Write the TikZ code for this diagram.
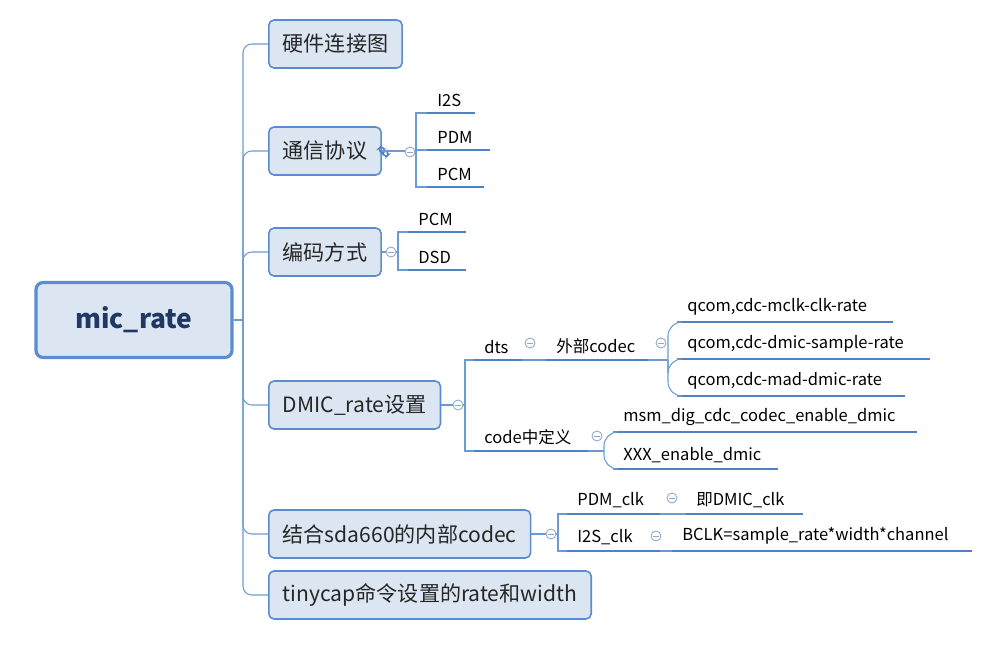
\documentclass[tikz,border=0pt]{standalone}
\usepackage{fontspec}
\setmainfont{Noto Sans CJK SC}
\usetikzlibrary{calc}
\definecolor{boxfill}{HTML}{DCE6F2}
\definecolor{boxline}{HTML}{5B8BD0}
\definecolor{uline}{HTML}{4F81C7}
\definecolor{connc}{HTML}{6B9BD2}
\definecolor{foldc}{HTML}{8FA9CC}
\definecolor{rootc}{HTML}{1F3864}
\begin{document}
\begin{tikzpicture}[x=0.02cm,y=-0.02cm,
  root/.style={draw=boxline,line width=1.8pt,fill=boxfill,rounded corners=4pt,
    minimum width=3.92cm,minimum height=1.5cm,font=\fontsize{15}{18}\selectfont\bfseries,text=rootc},
  topic/.style={draw=boxline,line width=0.9pt,fill=boxfill,rounded corners=3pt,anchor=west,
    minimum height=0.96cm,inner xsep=0.28cm,font=\fontsize{12}{14}\selectfont,text=black!85},
  leaf/.style={anchor=south west,inner xsep=0.2cm,inner ysep=0.12cm,font=\fontsize{9.4}{11}\selectfont},
  ul/.style={uline,line width=1.4pt},
  conn/.style={connc,line width=0.6pt},
  curv/.style={conn,rounded corners=8pt},
  fold/.style={circle,draw=foldc,fill=white,line width=0.5pt,minimum size=0.2cm,inner sep=0pt,
    path picture={\draw[foldc,line width=0.5pt]
      ([xshift=-1.6pt]path picture bounding box.center) -- ([xshift=1.6pt]path picture bounding box.center);}}]
\useasboundingbox (0,0) rectangle (1007,645);

% root and trunk
\node[root] (root) at (134,320) {mic\_rate};
\node[topic] (t1) at (268,44) {硬件连接图};
\node[topic,inner xsep=0.28cm] (t2) at (268,151) {通信协议\hspace{1.2em}};
\node[topic] (t3) at (268,252) {编码方式};
\node[topic] (t4) at (268,405) {DMIC\_rate设置};
\node[topic] (t5) at (268,534) {结合sda660的内部codec};
\node[topic] (t6) at (268,595) {tinycap命令设置的rate和width};
\coordinate (tr) at (243,320);
\draw[conn] (root.east) -- (tr);
\foreach \t in {t1,t2,t3,t4,t5,t6}
  \draw[conn,rounded corners=5pt] (tr) |- (\t.west);

% link icon
\begin{scope}[shift={(384,152)},rotate=-45,draw=uline,line width=0.9pt]
  \draw[uline,rounded corners=1.5pt] (-6,-2.2) rectangle (0,2.2);
  \draw[uline,rounded corners=1.5pt] (-1,-2.2) rectangle (5,2.2);
\end{scope}

% 通信协议
\node[leaf] (i2s) at (427,113) {I2S};
\node[leaf] (pdm) at (427,150) {PDM};
\node[leaf] (pcm) at (427,187) {PCM};
\draw[ul] (i2s.south west) -- ++(48,0);
\draw[ul] (pdm.south west) -- ++(63,0);
\draw[ul] (pcm.south west) -- ++(57,0);
\coordinate (b2) at (416,151);
\draw[conn] (t2.east) -- (b2);
\foreach \c in {i2s,pdm,pcm} \draw[conn] (b2) |- (\c.south west);
\node[fold] at (410,152) {};

% 编码方式
\node[leaf] (pcm2) at (408,232) {PCM};
\node[leaf] (dsd) at (408,270) {DSD};
\draw[ul] (pcm2.south west) -- ++(58,0);
\draw[ul] (dsd.south west) -- ++(58,0);
\coordinate (b3) at (398,252);
\draw[conn] (t3.east) -- (b3);
\foreach \c in {pcm2,dsd} \draw[conn] (b3) |- (\c.south west);
\node[fold] at (391,252) {};

% DMIC_rate设置
\node[leaf] (dts) at (474,360) {dts};
\node[leaf] (code) at (474,451) {code中定义};
\draw[ul] (dts.south west) -- ++(48,0);
\draw[ul] (code.south west) -- ++(114,0);
\coordinate (b4) at (465,405);
\draw[conn] (t4.east) -- (b4);
\foreach \c in {dts,code} \draw[conn] (b4) |- (\c.south west);
\node[fold] at (458,405) {};

\node[leaf] (ext) at (546,360) {外部codec};
\draw[ul] (ext.south west) -- ++(102,0);
\draw[conn] ($(dts.south west)+(48,0)$) -- (ext.south west);
\node[fold] at (530,343) {};

\node[leaf] (q1) at (677,322) {qcom,cdc-mclk-clk-rate};
\node[leaf] (q2) at (677,359) {qcom,cdc-dmic-sample-rate};
\node[leaf] (q3) at (677,396) {qcom,cdc-mad-dmic-rate};
\draw[ul] (q1.south west) -- ++(216,0);
\draw[ul] (q2.south west) -- ++(253,0);
\draw[ul] (q3.south west) -- ++(228,0);
\coordinate (b5) at (668,360);
\draw[conn] ($(ext.south west)+(102,0)$) -- (b5);
\foreach \c in {q1,q2,q3} \draw[curv] (b5) |- (\c.south west);
\node[fold] at (661,343) {};

\node[leaf] (msm) at (613,432) {msm\_dig\_cdc\_codec\_enable\_dmic};
\node[leaf] (xxx) at (613,469) {XXX\_enable\_dmic};
\draw[ul] (msm.south west) -- ++(304,0);
\draw[ul] (xxx.south west) -- ++(165,0);
\coordinate (b6) at (604,451);
\draw[conn] ($(code.south west)+(114,0)$) -- (b6);
\foreach \c in {msm,xxx} \draw[curv] (b6) |- (\c.south west);
\node[fold] at (597,436) {};

% 结合sda660的内部codec
\node[leaf] (pclk) at (567,514) {PDM\_clk};
\node[leaf] (iclk) at (567,551) {I2S\_clk};
\draw[ul] (pclk.south west) -- ++(93,0);
\draw[ul] (iclk.south west) -- ++(93,0);
\coordinate (b7) at (558,534);
\draw[conn] (t5.east) -- (b7);
\foreach \c in {pclk,iclk} \draw[conn] (b7) |- (\c.south west);
\node[fold] at (551,534) {};

\node[leaf] (dclk) at (686,514) {即DMIC\_clk};
\draw[ul] (dclk.south west) -- ++(117,0);
\draw[conn] ($(pclk.south west)+(93,0)$) -- (dclk.south west);
\node[fold] at (672,498) {};

\node[leaf] (bclk) at (672,551) {BCLK=sample\_rate*width*channel};
\draw[ul] (bclk.south west) -- ++(300,0);
\draw[conn] ($(iclk.south west)+(93,0)$) -- (bclk.south west);
\node[fold] at (656,536) {};
\end{tikzpicture}
\end{document}
